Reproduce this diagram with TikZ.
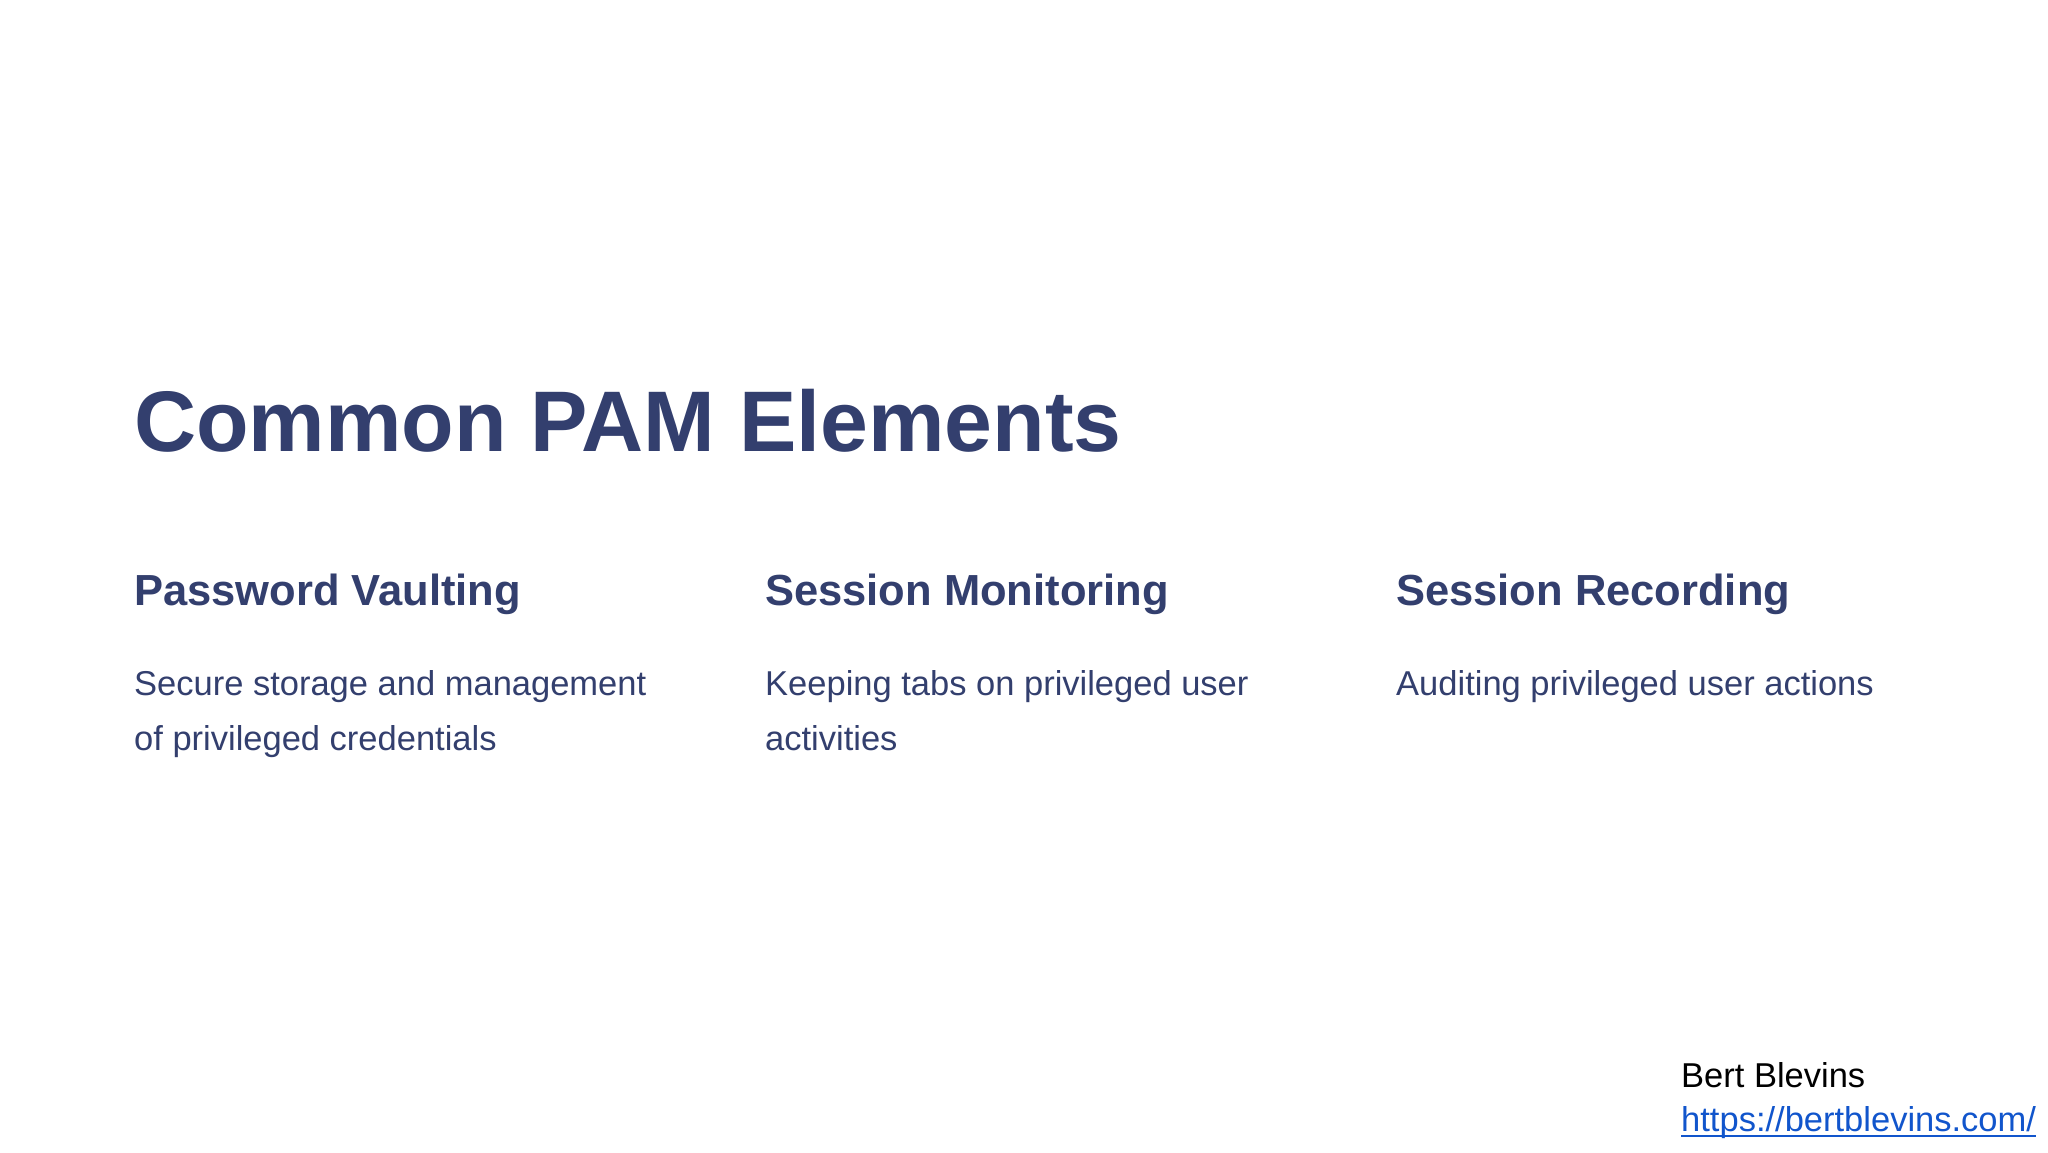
\documentclass[tikz,border=0pt]{standalone}
\usepackage{fontspec}
\setmainfont{Liberation Sans}
\definecolor{navy}{HTML}{333F6E}
\definecolor{link}{HTML}{1155CC}
\begin{document}
\begin{tikzpicture}[x=1pt,y=-1pt,
  txt/.style={anchor=base west,inner sep=0pt,text=navy},
  ttl/.style={txt,font=\fontsize{86}{100}\selectfont\bfseries},
  hd/.style={txt,font=\fontsize{43.5}{50}\selectfont\bfseries},
  bd/.style={txt,font=\fontsize{34.5}{55}\selectfont,align=left}]
\useasboundingbox[fill=white] (0,0) rectangle (2048,1152);
\node[ttl] (title) at (134,451) {Common PAM Elements};
\node[hd] (h1) at (134,605) {Password Vaulting};
\node[hd] (h2) at (765,605) {Session Monitoring};
\node[hd] (h3) at (1396,605) {Session Recording};
\node[bd] (b1) at (134,750) {Secure storage and management\\of privileged credentials};
\node[bd] (b2) at (765,750) {Keeping tabs on privileged user\\activities};
\node[bd] (b3) at (1396,695) {Auditing privileged user actions};
\node[anchor=base west,inner sep=0pt,font=\fontsize{34.5}{40}\selectfont] (a) at (1681,1087) {Bert Blevins};
\node[anchor=base west,inner sep=0pt,font=\fontsize{34.5}{40}\selectfont,text=link] (u) at (1681,1131) {https://bertblevins.com/};
\draw[link,line width=2.2pt] ([yshift=-5]u.base west) -- ([yshift=-5]u.base east);
\end{tikzpicture}
\end{document}
